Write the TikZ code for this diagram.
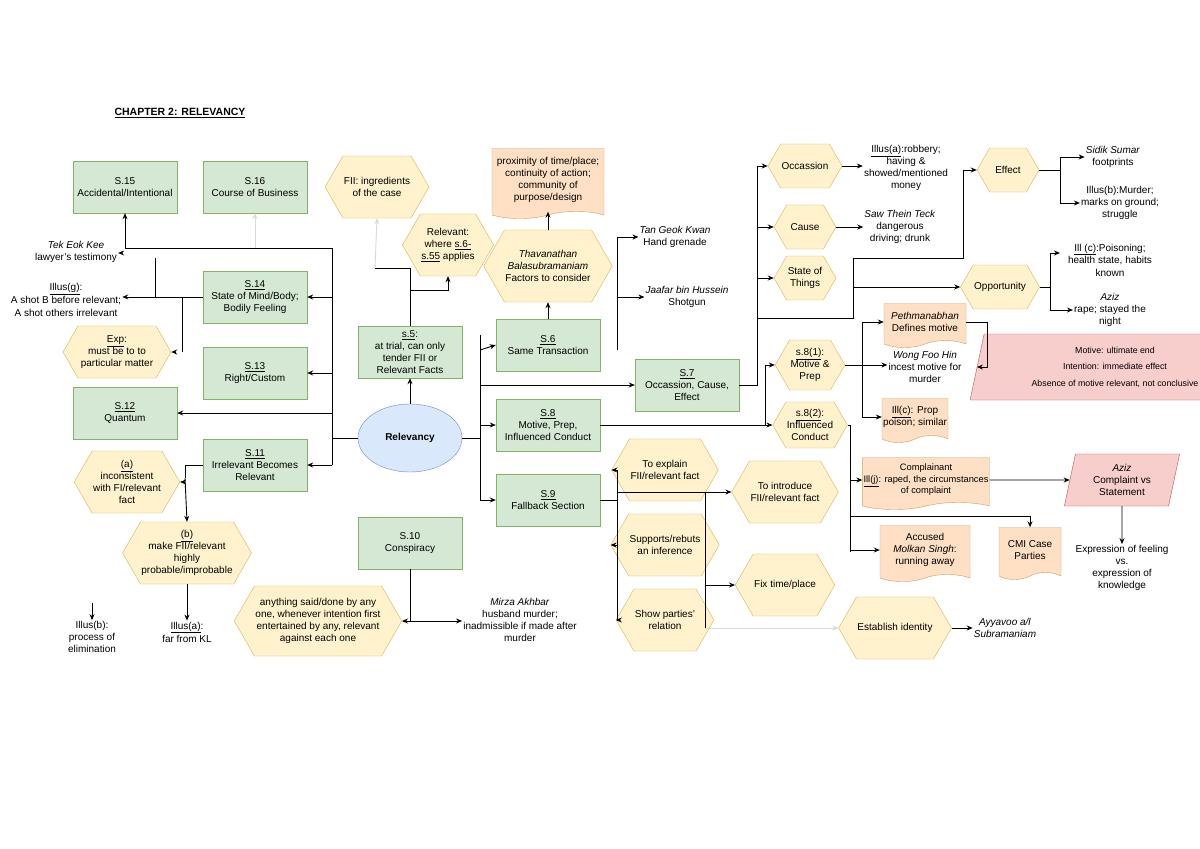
\documentclass[tikz,border=0pt]{standalone}
\usepackage{fontspec}
\setmainfont{Liberation Sans}
\usetikzlibrary{shapes.symbols,shapes.geometric,arrows.meta}
\definecolor{gfill}{HTML}{D5E8D4}\definecolor{gdraw}{HTML}{82B366}
\definecolor{yfill}{HTML}{FFF2CC}\definecolor{ydraw}{HTML}{D6B656}
\definecolor{ofill}{HTML}{FFE0C4}\definecolor{odraw}{HTML}{C8A060}
\definecolor{rfill}{HTML}{F8CECC}\definecolor{rdraw}{HTML}{B85450}
\definecolor{bfill}{HTML}{DAE8FC}\definecolor{bdraw}{HTML}{6C8EBF}
\begin{document}
\begin{tikzpicture}[x=1pt,y=-1pt,
  every node/.style={font=\fontsize{10}{12}\selectfont,align=center,inner sep=1pt},
  gbox/.style={draw=gdraw,fill=gfill,minimum width=104pt,minimum height=52pt},
  hexa/.style={signal,signal to=east and west,signal pointer angle=120,draw=ydraw,fill=yfill,minimum height=#1},
  hexa/.default=52pt,
  docu/.style={tape,tape bend top=none,tape bend height=7pt,draw=odraw,fill=ofill},
  para/.style={trapezium,trapezium left angle=78,trapezium right angle=102,draw=rdraw,fill=rfill},
  txt/.style={},
  ar/.style={-{Stealth[length=6pt,width=5pt]},line width=0.9pt},
  ln/.style={line width=0.9pt},
  faint/.style={ar,draw=black!15}]
\fill[white] (0,0) rectangle (1200,849);
\useasboundingbox (0,0) rectangle (1200,849);
\node[font=\bfseries\fontsize{10.5}{12}\selectfont] (title) at (180,113) {\underline{CHAPTER 2: RELEVANCY}};
% green
\node[gbox] (s15) at (125,187) {S.15\\Accidental/Intentional};
\node[gbox] (s16) at (255,187) {S.16\\Course of Business};
\node[gbox] (s14) at (255,297) {\underline{S.14}\\State of Mind/Body;\\Bodily Feeling};
\node[gbox] (s13) at (255,373) {\underline{S.13}\\Right/Custom};
\node[gbox] (s12) at (125,413) {\underline{S.12}\\Quantum};
\node[gbox] (s11) at (255,465) {\underline{S.11}\\Irrelevant Becomes\\Relevant};
\node[gbox] (s5) at (410,352) {\underline{s.5}:\\at trial, can only\\tender FII or\\Relevant Facts};
\node[gbox] (s6) at (548,345) {\underline{S.6}\\Same Transaction};
\node[gbox] (s7) at (687,385) {\underline{S.7}\\Occassion, Cause,\\Effect};
\node[gbox] (s8) at (548,425) {\underline{S.8}\\Motive, Prep,\\Influenced Conduct};
\node[gbox] (s9) at (548,500) {\underline{S.9}\\Fallback Section};
\node[gbox] (s10) at (410,543) {S.10\\Conspiracy};
\node[ellipse,draw=bdraw,fill=bfill,minimum width=104pt,minimum height=68pt,font=\bfseries\fontsize{10}{12}\selectfont] (rel) at (410,438) {Relevancy};
% hexagons
\node[hexa=62pt,minimum width=80pt] (fii) at (377,187) {FII: ingredients\\of the case};
\node[hexa=62pt,minimum width=80pt] (relw) at (448,245) {Relevant:\\where \underline{s.6-}\\\underline{s.55} applies};
\node[hexa,minimum width=108pt] (exp) at (117,352) {\underline{Exp}:\\must be to to\\particular matter};
\node[hexa=62pt,minimum width=70pt] (ha) at (127,482) {\underline{(a)}\\inconsistent\\with FI/relevant\\fact};
\node[hexa=62pt,minimum width=112pt] (hb) at (187,553) {\underline{(b)}\\make FII/relevant\\highly\\probable/improbable};
\node[hexa=70pt,minimum width=120pt] (consp) at (318,621) {anything said/done by any\\one, whenever intention first\\entertained by any, relevant\\against each one};
\node[hexa=72pt,minimum width=112pt] (thav) at (548,266) {\textit{Thavanathan}\\\textit{Balasubramaniam}\\Factors to consider};
\node[hexa=44pt,minimum width=66pt] (occ) at (805,166) {Occassion};
\node[hexa=44pt,minimum width=62pt] (cause) at (805,227) {Cause};
\node[hexa=44pt,minimum width=62pt] (state) at (805,278) {State of\\Things};
\node[hexa=44pt,minimum width=62pt] (eff) at (1008,170) {Effect};
\node[hexa=44pt,minimum width=72pt] (opp) at (1000,287) {Opportunity};
\node[hexa=50pt,minimum width=58pt] (s81) at (810,365) {\underline{s.8(1)}:\\Motive \&\\Prep};
\node[hexa=46pt,minimum width=58pt] (s82) at (810,425) {\underline{s.8(2)}:\\Influenced\\Conduct};
\node[hexa=62pt,minimum width=70pt] (expl) at (665,470) {To explain\\FII/relevant fact};
\node[hexa=62pt,minimum width=70pt] (supp) at (665,545) {Supports/rebuts\\an inference};
\node[hexa=62pt,minimum width=70pt] (show) at (665,620) {Show parties'\\relation};
\node[hexa=62pt,minimum width=76pt] (intro) at (785,492) {To introduce\\FII/relevant fact};
\node[hexa=62pt,minimum width=76pt] (fix) at (785,585) {Fix time/place};
\node[hexa=62pt,minimum width=76pt] (ident) at (895,628) {Establish identity};
% documents
\node[docu,minimum width=112pt,minimum height=70pt] (prox) at (548,180) {proximity of time/place;\\continuity of action;\\community of\\purpose/design};
\node[docu,minimum width=82pt,minimum height=44pt] (pet) at (925,322) {\textit{Pethmanabhan}\\Defines motive};
\node[docu,minimum width=66pt,minimum height=44pt] (ill) at (915,417) {\underline{Ill(c)}: Prop\\poison; similar};
\node[docu,minimum width=126pt,minimum height=52pt,font=\fontsize{9.3}{11.5}\selectfont] (compl) at (926,480) {Complainant\\\underline{Ill(j)}: raped, the circumstances\\of complaint};
\node[docu,minimum width=90pt,minimum height=56pt] (acc) at (925,550) {Accused\\\textit{Molkan Singh}:\\running away};
\node[docu,minimum width=62pt,minimum height=52pt] (cmi) at (1030,550) {CMI Case\\Parties};
\node[para,minimum width=170pt,minimum height=66pt,font=\fontsize{8.8}{10.5}\selectfont] (mot) at (1115,367) {Motive: ultimate end\\[6pt]Intention: immediate effect\\[6pt]Absence of motive relevant, not conclusive};
\node[para,minimum width=72pt,minimum height=52pt] (aziz) at (1122,480) {\textit{Aziz}\\Complaint vs\\Statement};
% texts
\node[txt] (tek) at (76,252) {\textit{Tek Eok Kee}\\lawyer's testimony};
\node[txt,font=\fontsize{10}{13}\selectfont] (illg) at (66,300) {\underline{Illus(g)}:\\A shot B before relevant;\\A shot others irrelevant};
\node[txt] (illb) at (92,637) {Illus(b):\\process of\\elimination};
\node[txt,font=\fontsize{10}{13}\selectfont] (illa) at (187,632) {\underline{Illus(a)}:\\far from KL};
\node[txt] (mirza) at (520,620) {\textit{Mirza Akhbar}\\husband murder;\\inadmissible if made after\\murder};
\node[txt] (tan) at (675,237) {\textit{Tan Geok Kwan}\\Hand grenade};
\node[txt] (jaa) at (687,297) {\textit{Jaafar bin Hussein}\\Shotgun};
\node[txt] (ia) at (906,168) {\underline{Illus(a)}:robbery;\\having \&\\showed/mentioned\\money};
\node[txt] (saw) at (900,227) {\textit{Saw Thein Teck}\\dangerous\\driving; drunk};
\node[txt] (sid) at (1113,157) {\textit{Sidik Sumar}\\footprints};
\node[txt] (ibm) at (1120,203) {Illus(b):Murder;\\marks on ground;\\struggle};
\node[txt,font=\fontsize{10}{12.5}\selectfont] (ic) at (1110,260) {\underline{Ill (c)}:Poisoning;\\health state, habits\\known};
\node[txt] (az2) at (1110,310) {\textit{Aziz}\\rape; stayed the\\night};
\node[txt] (wong) at (925,367) {\textit{Wong Foo Hin}\\incest motive for\\murder};
\node[txt] (expr) at (1122,568) {Expression of feeling\\vs.\\expression of\\knowledge};
\node[txt] (ayy) at (1005,628) {\textit{Ayyavoo a/l}\\\textit{Subramaniam}};
% left trunk
\draw[ln] (rel.west) -- (332,438);
\draw[ln] (332,248) -- (332,465);
\draw[ar] (332,248) -| (s15.south);
\draw[faint] (255,248) -- (s16.south);
\draw[ar] (332,297) -- (s14.east);
\draw[ar] (332,373) -- (s13.east);
\draw[ar] (332,413) -- (s12.east);
\draw[ar] (332,465) -- (s11.east);
\draw[ar] (s14.west) -- (illg.east |- s14.west);
\draw[ln] (155,297) -- (155,258);
\draw[ar] (121,253) -- (tek.east |- 121,253);
\draw[ln] (182,297) -- (182,352);
\draw[ar] (176,352) -- (exp.east);
\draw[ln] (s11.west) -- (185,465) -- (185,478);
\draw[ar] (185,482) -- (ha.east);
\draw[ar] (185,478) -- (hb.north);
\draw[ar] (hb.south) -- (illa.north);
\draw[ar] (illb.north |- 0,603) -- (illb.north);
% s5
\draw[ar] (rel.north) -- (s5.south);
\draw[ln] (s5.north) -- (410,268) -- (375,268);
\draw[faint] (375,268) -- (fii.south);
\draw[ar] (410,290) -| (relw.south);
% right trunk
\draw[ln] (rel.east) -- (480,438);
\draw[ln] (480,335) -- (480,500);
\draw[ar] (480,350) -- (s6.west);
\draw[ar] (480,385) -- (s7.west);
\draw[ar] (480,425) -- (s8.west);
\draw[ar] (480,500) -- (s9.west);
\draw[ar] (s6.north) -- (thav.south);
\draw[ar] (thav.north) -- (prox.south);
\draw[ln] (617,350) -- (617,237);
\draw[ar] (617,237) -- (tan.west);
\draw[ar] (617,297) -- (jaa.west);
% s7
\draw[ln] (s7.east) -- (757,385) -- (757,166);
\draw[ar] (757,166) -- (occ.west);
\draw[ar] (757,227) -- (cause.west);
\draw[ar] (757,278) -- (state.west);
\draw[ar] (occ.east) -- (ia.west |- occ.east);
\draw[ar] (cause.east) -- (saw.west);
\draw[ln] (757,318) -- (853,318) -- (853,258) -- (963,258) -- (963,170);
\draw[ar] (963,170) -- (eff.west);
\draw[ar] (853,287) -- (opp.west);
\draw[ln] (eff.east) -- (1060,170);
\draw[ar] (1060,170) |- (sid.west);
\draw[ar] (1060,170) |- (ibm.west);
\draw[ln] (opp.east) -- (1050,287);
\draw[ar] (1050,287) |- (1060,253);
\draw[ar] (1050,287) |- (az2.west);
% s8
\draw[ar] (s8.east) -- (s82.west);
\draw[ar] (765,425) |- (s81.west);
\draw[ar] (s81.east) -- (wong.west |- s81.east);
\draw[ln] (862,322) -- (862,417);
\draw[ar] (862,322) -- (pet.west);
\draw[ar] (862,417) -- (ill.west);
\draw[ar] (pet.east) -- (987,322) |- (mot.west);
\draw[ln] (s82.east) -- (850,425) -- (850,552);
\draw[ar] (850,480) -- (compl.west);
\draw[ar] (850,550) -- (acc.west);
\draw[ar] (850,516) -| (cmi.north);
\draw[ar] (compl.east) -- (aziz.west);
\draw[ar] (aziz.south) -- (1122,520) -| (expr.north);
% s9
\draw[ln] (s9.east) -- (617,500);
\draw[ln] (617,470) -- (617,620);
\draw[ar] (617,470) -- (expl.west);
\draw[ar] (617,545) -- (supp.west);
\draw[ar] (617,620) -- (show.west);
\draw[ar] (617,492) -- (intro.west);
\draw[ln] (705,492) -- (705,628);
\draw[ar] (705,585) -- (fix.west);
\draw[faint] (705,628) -- (ident.west);
\draw[ar] (ident.east) -- (ayy.west);
% s10
\draw[ln] (s10.south) -- (410,621);
\draw[ar] (410,621) -- (consp.east);
\draw[ar] (410,621) -- (mirza.west |- 410,621);
\end{tikzpicture}
\end{document}
